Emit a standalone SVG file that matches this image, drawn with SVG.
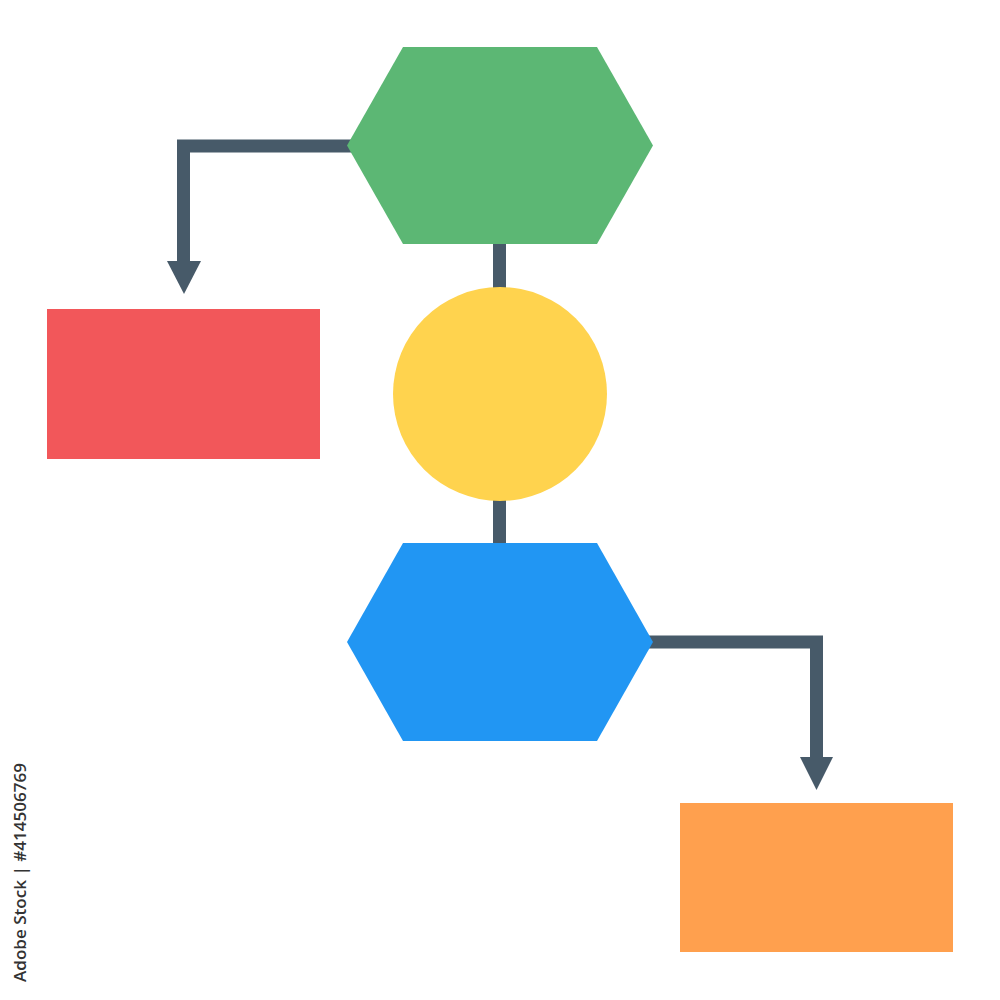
<svg xmlns="http://www.w3.org/2000/svg" width="1000" height="1000" viewBox="0 0 1000 1000">
<style>
.conn{fill:none;stroke:#475A69;stroke-width:13;stroke-linejoin:miter}
.head{fill:#475A69}
.wm{font-family:"Open Sans","Liberation Sans",sans-serif;font-size:16px;font-weight:600;fill:#333333}
</style>
<rect width="1000" height="1000" fill="#ffffff"/>
<g id="connectors">
<line class="conn" x1="499.5" y1="240" x2="499.5" y2="292"/>
<line class="conn" x1="499.5" y1="496" x2="499.5" y2="547"/>
<polyline class="conn" points="352,146 183.5,146 183.5,263"/>
<polygon class="head" points="167,261 201,261 184,294"/>
<polyline class="conn" points="648,642 816.5,642 816.5,759"/>
<polygon class="head" points="800,757 833,757 816.5,790"/>
</g>
<g id="hex-top"><polygon points="403,47 597,47 653,145.5 597,244 403,244 347,145.5" fill="#5CB774"/></g>
<g id="circle"><circle cx="500" cy="394" r="107" fill="#FFD34E"/></g>
<g id="hex-bottom"><polygon points="403,543 597,543 653,642 597,741 403,741 347,642" fill="#2196F3"/></g>
<g id="rect-red"><rect x="47" y="309" width="273" height="150" fill="#F2575A"/></g>
<g id="rect-orange"><rect x="680" y="803" width="273" height="149" fill="#FFA04E"/></g>
<text class="wm" transform="translate(26,982) rotate(-90)" textLength="219" lengthAdjust="spacingAndGlyphs">Adobe Stock | #414506769</text>
</svg>
